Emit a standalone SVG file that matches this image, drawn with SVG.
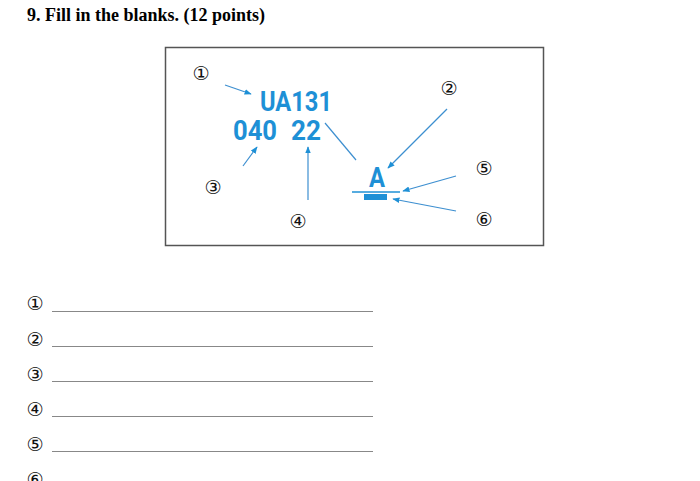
<svg xmlns="http://www.w3.org/2000/svg" width="700" height="481" viewBox="0 0 700 481">
<style>
.c{font-family:"DejaVu Sans",sans-serif;font-size:19px;fill:#111;text-anchor:middle}
.b{font-family:"Liberation Sans Narrow","Roboto","Liberation Sans",sans-serif;font-weight:bold;fill:#1e90d6;font-size:28px}
.a{stroke:#3d8fd0;stroke-width:1.2;fill:none}
.l{stroke:#888;stroke-width:1}
</style>
<defs><marker id="m" viewBox="0 0 10 10" refX="9" refY="5" markerWidth="6" markerHeight="6" orient="auto"><path d="M0,1L10,5L0,9z" fill="#1e90d6"/></marker></defs>
<rect width="700" height="481" fill="#fff"/>
<text x="27" y="21" font-family="Liberation Serif,serif" font-weight="bold" font-size="18">9. Fill in the blanks. (12 points)</text>
<g id="box"><rect x="165.5" y="47.5" width="378" height="198" fill="#fff" stroke="#555" stroke-width="1.5"/></g>
<g id="labels">
<text class="b" x="260" y="111" textLength="72" lengthAdjust="spacingAndGlyphs">UA131</text>
<text class="b" x="233" y="140" textLength="44" lengthAdjust="spacingAndGlyphs">040</text>
<text class="b" x="291" y="140" textLength="30" lengthAdjust="spacingAndGlyphs">22</text>
<text class="b" x="369" y="187" font-size="25" textLength="16" lengthAdjust="spacingAndGlyphs">A</text>
<line x1="352" y1="192" x2="400" y2="192" stroke="#1e90d6" stroke-width="1.5"/>
<rect x="364" y="194" width="23" height="6" fill="#1e90d6"/>
</g>
<g id="nums">
<text class="c" x="201" y="80">①</text>
<text class="c" x="449" y="95">②</text>
<text class="c" x="213" y="194">③</text>
<text class="c" x="298" y="228">④</text>
<text class="c" x="484" y="175">⑤</text>
<text class="c" x="484" y="226">⑥</text>
</g>
<g id="connectors">
<line class="a" x1="225" y1="85" x2="251" y2="94" marker-end="url(#m)"/>
<line class="a" x1="243" y1="166" x2="257" y2="147" marker-end="url(#m)"/>
<line class="a" x1="308" y1="200" x2="308" y2="147" marker-end="url(#m)"/>
<line class="a" x1="325" y1="123" x2="356" y2="160"/>
<line class="a" x1="447" y1="109" x2="388" y2="168" marker-end="url(#m)"/>
<line class="a" x1="456" y1="176" x2="403" y2="191" marker-end="url(#m)"/>
<line class="a" x1="456" y1="211" x2="393" y2="199" marker-end="url(#m)"/>
</g>
<g id="answers">
<text class="c" x="35" y="310">①</text><line class="l" x1="52" y1="311.5" x2="373" y2="311.5"/>
<text class="c" x="35" y="346">②</text><line class="l" x1="52" y1="346.5" x2="373" y2="346.5"/>
<text class="c" x="35" y="381">③</text><line class="l" x1="52" y1="381.5" x2="373" y2="381.5"/>
<text class="c" x="35" y="416">④</text><line class="l" x1="52" y1="416.5" x2="373" y2="416.5"/>
<text class="c" x="35" y="451">⑤</text><line class="l" x1="52" y1="451.5" x2="373" y2="451.5"/>
<text class="c" x="35" y="486">⑥</text>
</g>
</svg>
